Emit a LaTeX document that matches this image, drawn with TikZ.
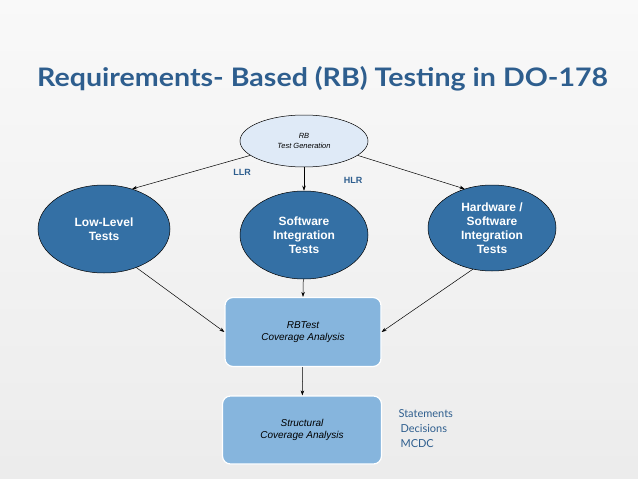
\documentclass[tikz,border=0pt]{standalone}
\usepackage{fontspec}
\setmainfont{Liberation Sans}
\newfontfamily\lato{Lato}
\newfontfamily\latow[FakeStretch=1.12]{Lato}
\usetikzlibrary{shapes.geometric,arrows.meta}
\definecolor{ttl}{HTML}{2E5E8E}
\definecolor{dark}{HTML}{3470A5}
\definecolor{lite}{HTML}{DFEAF7}
\definecolor{boxc}{HTML}{86B5DD}
\begin{document}
\begin{tikzpicture}[x=1pt,y=-1pt,
  big/.style={ellipse,draw=black,line width=0.5pt,fill=dark,text=white,font=\bfseries\fontsize{12}{14}\selectfont,align=center,inner sep=0pt},
  box/.style={rounded corners=8pt,draw=white,line width=1.2pt,fill=boxc,font=\itshape\fontsize{10}{12.5}\selectfont,align=center,minimum width=156pt,minimum height=69pt},
  arr/.style={-{Stealth[length=5pt,width=3.5pt]},line width=0.5pt},
  lab/.style={text=ttl,font=\bfseries\fontsize{9}{10}\selectfont},
  lst/.style={text=ttl,font=\lato\fontsize{11}{12}\selectfont,anchor=west}]
\fill[top color=white!60!gray!12, bottom color=gray!15] (0,0) rectangle (638,479);
\useasboundingbox (0,0) rectangle (638,479);
\node[anchor=west,text=ttl,font=\latow\bfseries\fontsize{25.5}{28}\selectfont,inner sep=0pt] (t) at (37,79) {Requirements- Based (RB) Testing in DO-178};
\node[ellipse,draw=black,line width=0.5pt,fill=lite,minimum width=128pt,minimum height=52pt,align=center,font=\itshape\fontsize{7.5}{10}\selectfont,inner sep=0pt] (rb) at (304,141) {RB\\Test Generation};
\node[big,minimum width=132pt,minimum height=88pt] (ll) at (104,229) {Low-Level\\Tests};
\node[big,minimum width=128pt,minimum height=88pt] (sw) at (304,235) {Software\\Integration\\Tests};
\node[big,minimum width=128pt,minimum height=86pt] (hw) at (492,228) {Hardware /\\Software\\Integration\\Tests};
\node[box] (b1) at (303,332) {RBTest\\Coverage Analysis};
\node[box,minimum width=159pt,minimum height=68pt] (b2) at (302,430) {Structural\\Coverage Analysis};
\node[lab] (llr) at (242,172) {LLR};
\node[lab] (hlr) at (353,180) {HLR};
\node[lst] (s1) at (395,414) {Statements};
\node[lst] (s2) at (397,429) {Decisions};
\node[lst] (s3) at (397,444) {MCDC};
\draw[arr] (rb.195) -- (ll.55);
\draw[arr] (rb) -- (sw);
\draw[arr] (rb.-15) -- (hw.125);
\draw[arr] (ll.-50) -- (b1.west);
\draw[arr] (sw) -- (b1.north);
\draw[arr] (hw.-115) -- (b1.east);
\draw[arr] (b1) -- (b2);
\end{tikzpicture}
\end{document}
